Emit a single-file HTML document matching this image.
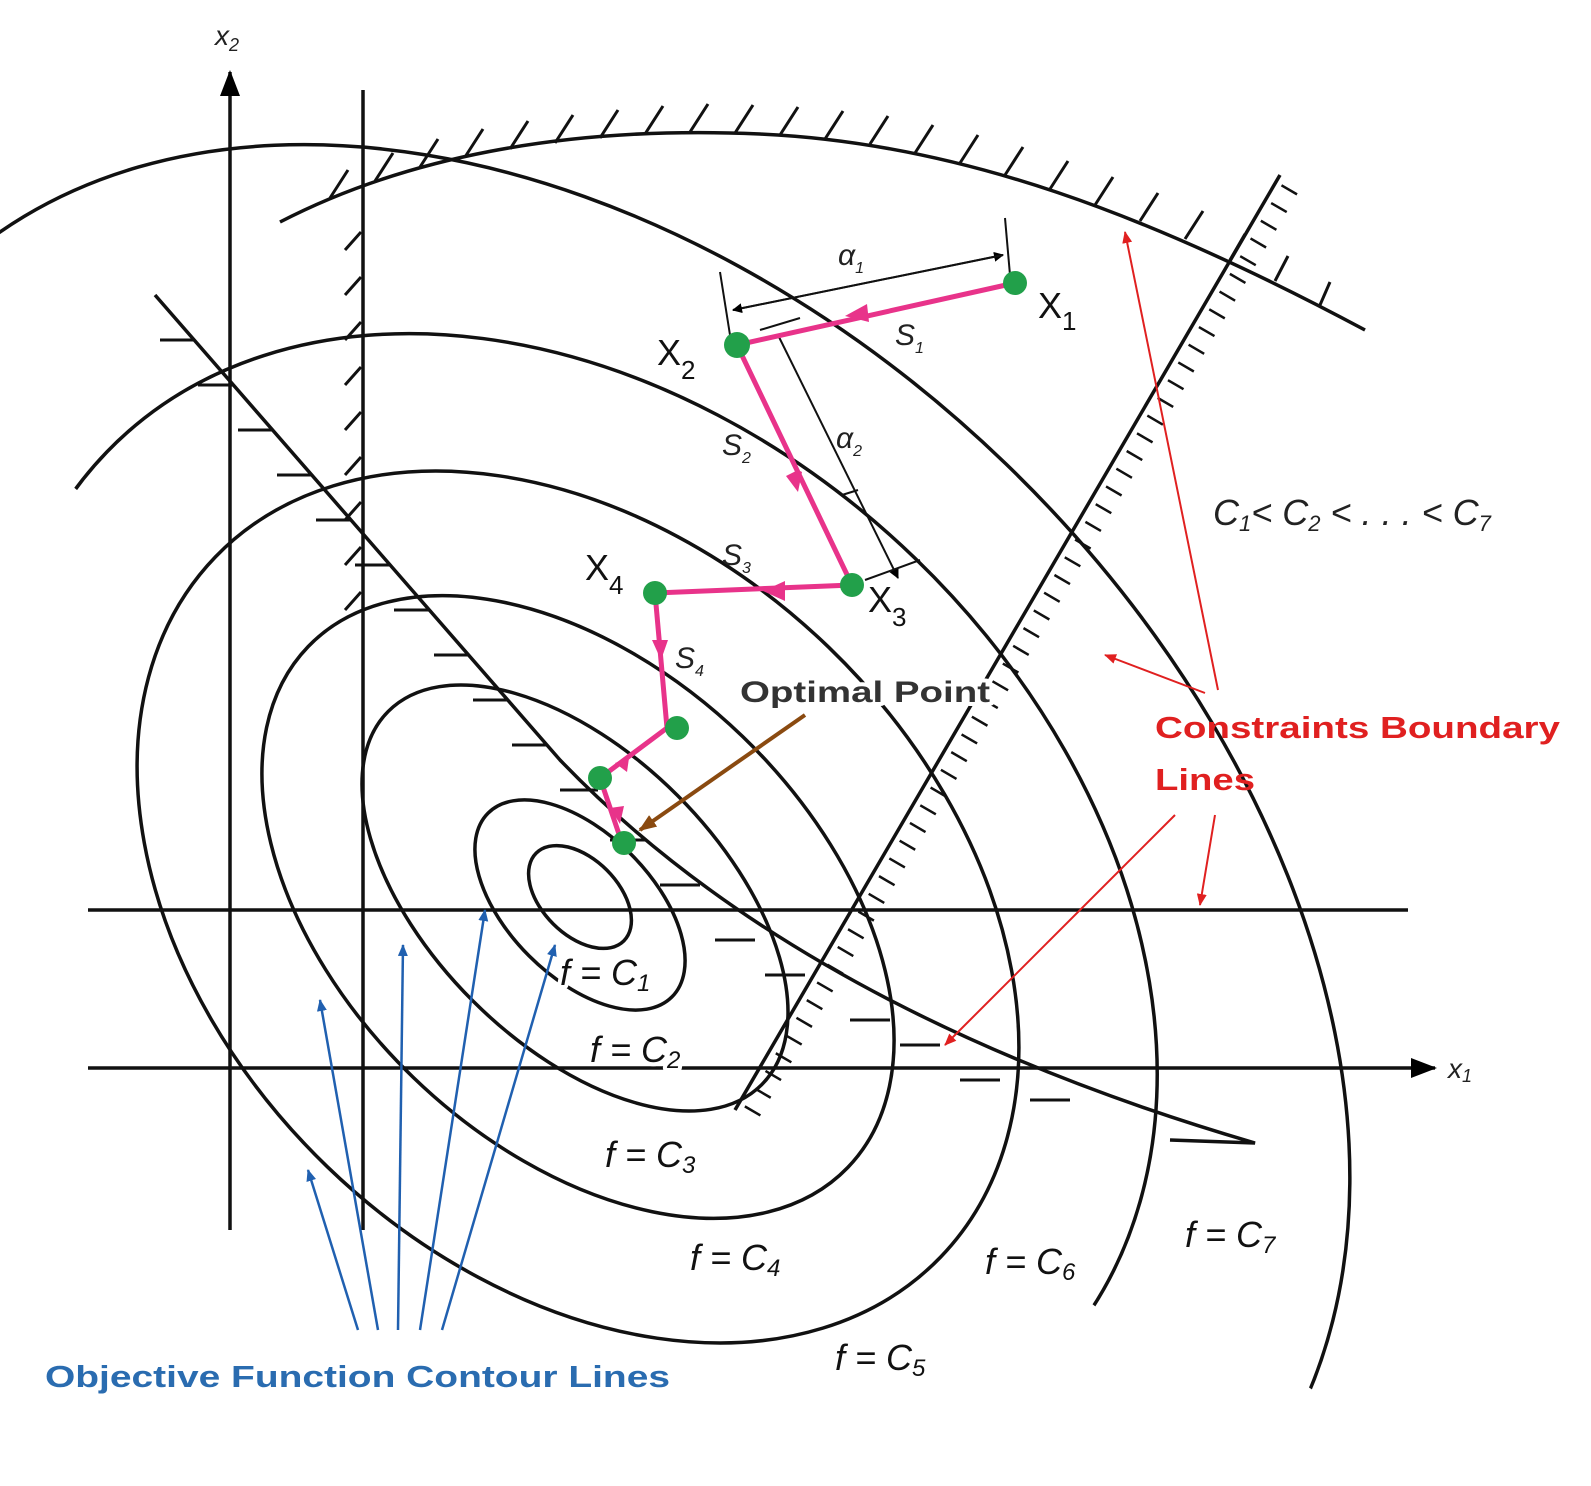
<!DOCTYPE html>
<html><head><meta charset="utf-8"><style>
html,body{margin:0;padding:0;background:#fff;overflow:hidden;width:1591px;height:1486px;}
#wrap{width:1591px;height:1486px;overflow:hidden;position:relative;}
svg{display:block;}
text{font-family:"Liberation Sans",sans-serif;}
.it{font-family:"Liberation Sans",sans-serif;font-style:italic;}
.lb text{paint-order:stroke;stroke:#fff;stroke-width:8px;stroke-linejoin:round;}
</style></head><body><div id="wrap">
<svg width="1591" height="1486" viewBox="0 0 1591 1486" xmlns="http://www.w3.org/2000/svg" overflow="hidden">
<defs>
<marker id="ab" markerWidth="10" markerHeight="10" refX="9" refY="5" orient="auto" markerUnits="userSpaceOnUse"><path d="M0,0 L10,5 L0,10 z" fill="#000"/></marker>
<marker id="abig" markerWidth="26" markerHeight="20" refX="24" refY="10" orient="auto" markerUnits="userSpaceOnUse"><path d="M0,0 L26,10 L0,20 z" fill="#000"/></marker>
<marker id="ar" markerWidth="12" markerHeight="10" refX="11" refY="5" orient="auto" markerUnits="userSpaceOnUse"><path d="M0,0 L12,5 L0,10 z" fill="#e02020"/></marker>
<marker id="abl" markerWidth="12" markerHeight="10" refX="11" refY="5" orient="auto" markerUnits="userSpaceOnUse"><path d="M0,0 L12,5 L0,10 z" fill="#2060b0"/></marker>
<marker id="abr" markerWidth="18" markerHeight="14" refX="16" refY="7" orient="auto" markerUnits="userSpaceOnUse"><path d="M0,0 L18,7 L0,14 z" fill="#8a4a10"/></marker>
<clipPath id="c6"><polygon points="578,907 -960,-373 2500,-400 2500,2116 2144,2116"/></clipPath>
<clipPath id="c7"><polygon points="578,907 -534,-327 2500,-400 2500,1843 2002,1843"/></clipPath>
</defs>
<g fill="none" stroke="#111" stroke-width="3.5">
<ellipse cx="580" cy="897" rx="62" ry="38" transform="rotate(45 580 897)"/>
<ellipse cx="580" cy="905" rx="130" ry="72" transform="rotate(45 580 905)"/>
<ellipse cx="575" cy="898" rx="264" ry="145" transform="rotate(45 575 898)"/>
<ellipse cx="578" cy="907" rx="375" ry="237" transform="rotate(44 578 907)"/>
<ellipse cx="578" cy="907" rx="504" ry="361" transform="rotate(44 578 907)"/>
<g clip-path="url(#c6)"><ellipse cx="578" cy="907" rx="655" ry="485" transform="rotate(44 578 907)"/></g>
<g clip-path="url(#c7)"><ellipse cx="578" cy="907" rx="893" ry="616" transform="rotate(44 578 907)"/></g>
<line x1="230" y1="1230" x2="230" y2="72" marker-end="url(#abig)"/>
<line x1="88" y1="1068" x2="1435" y2="1068" marker-end="url(#abig)"/>
<line x1="88" y1="910" x2="1408" y2="910"/>
<line x1="363" y1="90" x2="363" y2="1230"/>
<g stroke-width="3">
<line x1="345" y1="250" x2="361" y2="232"/><line x1="345" y1="295" x2="361" y2="277"/>
<line x1="345" y1="340" x2="361" y2="322"/><line x1="345" y1="385" x2="361" y2="367"/>
<line x1="345" y1="430" x2="361" y2="412"/><line x1="345" y1="475" x2="361" y2="457"/>
<line x1="345" y1="520" x2="361" y2="502"/><line x1="345" y1="565" x2="361" y2="547"/>
<line x1="345" y1="610" x2="361" y2="592"/>
</g>
<path d="M280,222 C400,160 560,125 760,134 S1150,215 1365,330"/>
<g stroke-width="3">
<line x1="330" y1="198" x2="348" y2="170"/><line x1="375" y1="181" x2="393" y2="153"/>
<line x1="420" y1="167" x2="438" y2="139"/><line x1="465" y1="157" x2="483" y2="129"/>
<line x1="510" y1="149" x2="528" y2="121"/><line x1="555" y1="143" x2="573" y2="115"/>
<line x1="600" y1="138" x2="618" y2="110"/><line x1="645" y1="134" x2="663" y2="106"/>
<line x1="690" y1="132" x2="708" y2="104"/><line x1="735" y1="133" x2="753" y2="105"/>
<line x1="780" y1="135" x2="798" y2="107"/><line x1="825" y1="139" x2="843" y2="111"/>
<line x1="870" y1="144" x2="888" y2="116"/><line x1="915" y1="153" x2="933" y2="125"/>
<line x1="960" y1="163" x2="978" y2="135"/><line x1="1005" y1="175" x2="1023" y2="147"/>
<line x1="1050" y1="189" x2="1068" y2="161"/><line x1="1095" y1="205" x2="1113" y2="177"/>
<line x1="1140" y1="221" x2="1158" y2="193"/><line x1="1185" y1="239" x2="1203" y2="211"/>
<line x1="1230" y1="260" x2="1245" y2="234"/><line x1="1275" y1="281" x2="1288" y2="256"/>
<line x1="1320" y1="305" x2="1330" y2="282"/>
</g>
<path d="M155,295 L560,760 Q800,1010 1255,1143 L1170,1140"/>
<g stroke-width="3">
<line x1="160" y1="340" x2="194" y2="340"/><line x1="198" y1="385" x2="233" y2="385"/>
<line x1="238" y1="430" x2="273" y2="430"/><line x1="277" y1="475" x2="312" y2="475"/>
<line x1="316" y1="520" x2="351" y2="520"/><line x1="355" y1="565" x2="390" y2="565"/>
<line x1="394" y1="610" x2="429" y2="610"/><line x1="434" y1="655" x2="469" y2="655"/>
<line x1="473" y1="700" x2="508" y2="700"/><line x1="512" y1="745" x2="547" y2="745"/>
<line x1="560" y1="790" x2="598" y2="790"/><line x1="610" y1="840" x2="645" y2="840"/>
<line x1="660" y1="885" x2="700" y2="885"/><line x1="715" y1="940" x2="755" y2="940"/>
<line x1="765" y1="975" x2="805" y2="975"/><line x1="850" y1="1020" x2="890" y2="1020"/>
<line x1="900" y1="1045" x2="940" y2="1045"/><line x1="960" y1="1080" x2="1000" y2="1080"/>
<line x1="1030" y1="1100" x2="1070" y2="1100"/>
</g>
<line x1="735" y1="1110" x2="1280" y2="175"/>
<line x1="752" y1="1112" x2="1295" y2="180" stroke-width="18" stroke-dasharray="2.5 18"/>
</g>
<g stroke="#111" stroke-width="2" fill="none">
<line x1="1005" y1="218" x2="1010" y2="275"/>
<line x1="720" y1="272" x2="730" y2="335"/>
<line x1="733" y1="310" x2="1003" y2="255" marker-end="url(#ab)"/>
<line x1="1003" y1="255" x2="733" y2="310" marker-end="url(#ab)"/>
<line x1="760" y1="330" x2="800" y2="318"/>
<line x1="778" y1="335" x2="898" y2="578" marker-end="url(#ab)"/>
<line x1="865" y1="580" x2="920" y2="560"/>
<line x1="842" y1="495" x2="858" y2="490"/>
</g>
<g stroke="#e8338a" stroke-width="5" fill="none">
<polyline points="1015,283 737,345 852,585 655,593 667,728 600,778 622,843"/>
</g>
<g fill="#e8338a">
<path d="M845,316 l22,-12 l2,18 z"/>
<path d="M798,470 l-12,6 l12,16 l4,-20 z"/>
<path d="M763,591 l22,-10 l0,20 z"/>
<path d="M652,640 l16,0 l-7,20 z"/>
<path d="M610,808 l14,-2 l-4,18 z"/>
<path d="M615,763 l14,-5 l-2,14 z"/>
</g>
<g fill="#22a04a">
<circle cx="1015" cy="283" r="12"/><circle cx="737" cy="345" r="13"/>
<circle cx="852" cy="585" r="12"/><circle cx="655" cy="593" r="12"/>
<circle cx="677" cy="728" r="12"/><circle cx="600" cy="778" r="12"/>
<circle cx="624" cy="843" r="12"/>
</g>
<g font-size="36" fill="#111">
<text x="1038" y="318">X<tspan font-size="26" dy="12">1</tspan></text>
<text x="657" y="365">X<tspan font-size="26" dy="14">2</tspan></text>
<text x="868" y="612">X<tspan font-size="26" dy="14">3</tspan></text>
<text x="585" y="580">X<tspan font-size="26" dy="14">4</tspan></text>
</g>
<g class="it" font-size="30" fill="#222">
<text x="895" y="345">S<tspan font-size="16" dy="8">1</tspan></text>
<text x="722" y="455">S<tspan font-size="16" dy="8">2</tspan></text>
<text x="722" y="565">S<tspan font-size="16" dy="8">3</tspan></text>
<text x="675" y="668">S<tspan font-size="16" dy="8">4</tspan></text>
<text x="838" y="265">α<tspan font-size="16" dy="8">1</tspan></text>
<text x="836" y="448">α<tspan font-size="16" dy="8">2</tspan></text>
<text x="215" y="45" font-size="28">x<tspan font-size="18" dy="6">2</tspan></text>
<text x="1448" y="1078" font-size="28">x<tspan font-size="18" dy="4">1</tspan></text>
<text x="1213" y="525" font-size="36">C<tspan font-size="22" dy="6">1</tspan><tspan dy="-6">&lt; C</tspan><tspan font-size="22" dy="6">2</tspan><tspan dy="-6"> &lt; . . . &lt; C</tspan><tspan font-size="22" dy="6">7</tspan></text>
</g>
<g class="it lb" font-size="36" fill="#111">
<text x="560" y="985">f = C<tspan font-size="24" dy="6">1</tspan></text>
<text x="590" y="1062">f = C<tspan font-size="24" dy="6">2</tspan></text>
<text x="605" y="1167">f = C<tspan font-size="24" dy="6">3</tspan></text>
<text x="690" y="1270">f = C<tspan font-size="24" dy="6">4</tspan></text>
<text x="835" y="1370">f = C<tspan font-size="24" dy="6">5</tspan></text>
<text x="985" y="1274">f = C<tspan font-size="24" dy="6">6</tspan></text>
<text x="1185" y="1247">f = C<tspan font-size="24" dy="6">7</tspan></text>
</g>
<g class="lb"><text x="740" y="702" font-size="30" font-weight="bold" fill="#333" textLength="250" lengthAdjust="spacingAndGlyphs">Optimal Point</text></g>
<line x1="805" y1="715" x2="640" y2="830" stroke="#8a4a10" stroke-width="4" marker-end="url(#abr)"/>
<g font-size="31" font-weight="bold" fill="#e02020">
<text x="1155" y="738" textLength="405" lengthAdjust="spacingAndGlyphs">Constraints Boundary</text>
<text x="1155" y="790" textLength="100" lengthAdjust="spacingAndGlyphs">Lines</text>
</g>
<g stroke="#e02020" stroke-width="2" fill="none">
<line x1="1218" y1="690" x2="1125" y2="232" marker-end="url(#ar)"/>
<line x1="1205" y1="693" x2="1105" y2="655" marker-end="url(#ar)"/>
<line x1="1175" y1="815" x2="945" y2="1045" marker-end="url(#ar)"/>
<line x1="1215" y1="815" x2="1200" y2="905" marker-end="url(#ar)"/>
</g>
<g stroke="#2060b0" stroke-width="2.5" fill="none">
<line x1="358" y1="1330" x2="308" y2="1170" marker-end="url(#abl)"/>
<line x1="378" y1="1330" x2="320" y2="1000" marker-end="url(#abl)"/>
<line x1="398" y1="1330" x2="403" y2="945" marker-end="url(#abl)"/>
<line x1="420" y1="1330" x2="485" y2="910" marker-end="url(#abl)"/>
<line x1="442" y1="1330" x2="555" y2="945" marker-end="url(#abl)"/>
</g>
<text x="45" y="1387" font-size="31" font-weight="bold" fill="#2a6cb0" textLength="625" lengthAdjust="spacingAndGlyphs">Objective Function Contour Lines</text>
</svg>
</div></body></html>
